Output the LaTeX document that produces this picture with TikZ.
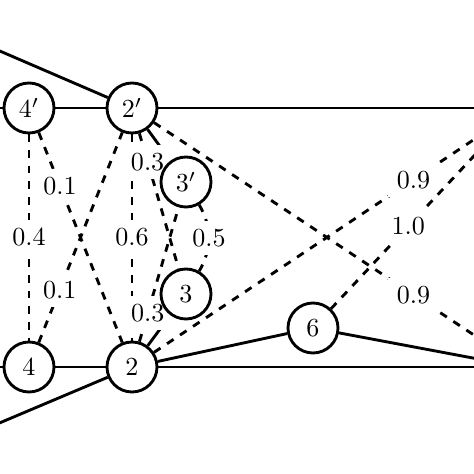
\documentclass[tikz,border=0pt]{standalone}
\usepackage{amsmath}
\usepackage{tikz}
\usetikzlibrary{backgrounds}
\begin{document}
\begin{tikzpicture}[x=0.135cm,y=0.135cm,
  vertex/.style={circle, draw, line width=1.1pt, fill=white, minimum size=0.675cm, inner sep=0pt},
  conn/.style={line width=1.1pt},
  wt/.style={fill=white}]
  \useasboundingbox (0,0) rectangle (47.4,47.4);
  \clip (0,0) rectangle (47.4,47.4);
  \node[vertex] (v4p) at (2.9,36.6) {$4'$};
  \node[vertex] (v2p) at (13.2,36.6) {$2'$};
  \node[vertex] (v3p) at (18.6,29.2) {$3'$};
  \node[vertex] (v3) at (18.6,18.0) {$3$};
  \node[vertex] (v4) at (2.9,10.7) {$4$};
  \node[vertex] (v2) at (13.2,10.7) {$2$};
  \node[vertex] (v6) at (31.3,14.6) {$6$};
  \coordinate (tl) at (-10,46.6);
  \coordinate (bl) at (-10,0.9);
  \coordinate (l4p) at (-10,36.6);
  \coordinate (l4) at (-10,10.7);
  \coordinate (r2p) at (57.4,36.6);
  \coordinate (r2) at (57.4,10.7);
  \coordinate (r6) at (57.4,9.7);
  \coordinate (d2p) at (57.4,7.25);
  \coordinate (d2) at (57.4,40.1);
  \coordinate (d6) at (57.4,42.5);
  \begin{pgfonlayer}{background}
  \foreach \a/\b in {l4p/v4p, v4p/v2p, tl/v2p, v2p/r2p, v2p/v3p,
                     l4/v4, v4/v2, bl/v2, v2/v3, v2/v6, v6/r6, v2/r2}
    \draw[conn] (\a) -- (\b);
  \foreach \a/\b/\w/\p in {v4p/v4/0.4/0.5, v4p/v2/0.1/0.255, v4/v2p/0.1/0.25,
                           v2p/v2/0.6/0.5, v2p/v3/0.3/0.21, v2/v3p/0.3/0.21,
                           v2p/d2p/0.9/0.618, v2/d2/0.9/0.618, v6/d6/1.0/0.318}
    \draw[conn, dashed] (\a) -- node[wt, pos=\p] {$\w$} (\b);
  \draw[conn, dashed] (v3p) to[bend left=30] node[wt] {$0.5$} (v3);
  \end{pgfonlayer}
\end{tikzpicture}
\end{document}
